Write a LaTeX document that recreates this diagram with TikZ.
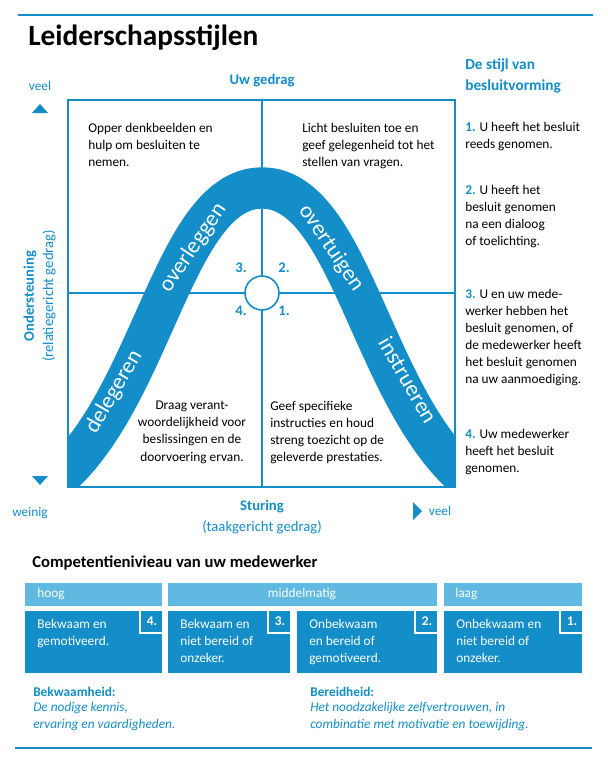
\documentclass[tikz,border=0pt]{standalone}
\usepackage{fontspec}
\setmainfont{Carlito}
\begin{document}
\begin{tikzpicture}[x=0.75pt,y=-0.75pt,
 tx/.style={font=\fontsize{10}{12.8}\selectfont, inner sep=0pt},
 btx/.style={font=\fontsize{11}{13}\selectfont\bfseries, text=cblue, inner sep=0pt},
 curv/.style={font=\fontsize{17}{18}\selectfont, text=white, inner sep=0pt},
 tri/.style={fill=cblue, draw=none},
 hdr/.style={fill=lblue, draw=none},
 bx/.style={fill=cblue, draw=none},
 tag/.style={fill=cblue, draw=white, line width=1.5pt},
 wtx/.style={font=\fontsize{10}{12.8}\selectfont, text=white, inner sep=0pt, align=left, anchor=north west},
]
\definecolor{cblue}{RGB}{20,142,200}
\definecolor{lblue}{RGB}{95,185,225}
\useasboundingbox (0,0) rectangle (607,764);
\fill[white] (0,0) rectangle (607,764);
\coordinate (r1a) at (18,15); \coordinate (r1b) at (593,15);
\draw[cblue, line width=2.2pt] (r1a) -- (r1b);
\node[anchor=west, font=\fontsize{22}{24}\selectfont\bfseries, inner sep=0pt] (title) at (28,38) {Leiderschapsstijlen};
% band
\begin{scope}
\clip (68,100) rectangle (455,487);
\draw[cblue, line width=31pt] (25,500) .. controls (150,440) and (165,188) .. (262,188) .. controls (359,188) and (374,440) .. (499,500);
\end{scope}
% grid
\draw[cblue, line width=1.2pt] (68,100) rectangle (455,487);
\coordinate (vt) at (262,100); \coordinate (vb) at (262,487);
\coordinate (hl) at (68,293); \coordinate (hr) at (455,293);
\draw[cblue, line width=1.2pt] (vt) -- (vb) (hl) -- (hr);
\node[circle, draw=cblue, fill=white, line width=1.2pt, minimum size=34pt*0.75] (c) at (262,293) {};
\node[btx] (n3) at (241,268) {3.};
\node[btx] (n2) at (284,268) {2.};
\node[btx] (n4) at (241,311) {4.};
\node[btx] (n1) at (284,311) {1.};
\node[curv, rotate=60] (del) at (114,392) {delegeren};
\node[curv, rotate=56] (ovl) at (193,248) {overleggen};
\node[curv, rotate=-56] (ovt) at (331,248) {overtuigen};
\node[curv, rotate=-60] (ins) at (408,380) {instrueren};
\node[tx, anchor=north west, align=left] (tl) at (88,123) {Opper denkbeelden en\\hulp om besluiten te\\nemen.};
\node[tx, anchor=north west, align=left] (tr) at (302,123) {Licht besluiten toe en\\geef gelegenheid tot het\\stellen van vragen.};
\node[tx, anchor=north, align=center] (bl) at (192,401) {Draag verant-\\woordelijkheid voor\\beslissingen en de\\doorvoering ervan.};
\node[tx, anchor=north west, align=left] (br) at (270,401) {Geef specifieke\\instructies en houd\\streng toezicht op de\\geleverde prestaties.};
% axes
\node[btx] (uw) at (262,81) {Uw gedrag};
\node[tx, text=cblue] (veel1) at (40,86) {veel};
\fill[tri] (32,113) -- (48,113) -- (40,104) -- cycle;
\fill[tri] (32,476) -- (48,476) -- (40,485) -- cycle;
\node[tx, text=cblue] (wein) at (30,513) {weinig};
\node[btx, rotate=90] (ond) at (30,296) {Ondersteuning};
\node[tx, text=cblue, rotate=90, font=\fontsize{11}{13}\selectfont] (rel) at (49,296) {(relatiegericht gedrag)};
\node[btx] (st) at (262,507) {Sturing};
\node[tx, text=cblue, font=\fontsize{11}{13}\selectfont] (tk) at (262,527) {(taakgericht gedrag)};
\fill[tri] (413,502) -- (413,520) -- (422,511) -- cycle;
\node[tx, text=cblue] (veel2) at (440,511) {veel};
% right column
\node[btx, anchor=north west, align=left, font=\fontsize{11.5}{16}\selectfont\bfseries] (dsv) at (465,58) {De stijl van\\besluitvorming};
\node[tx, anchor=north west, align=left] (s1) at (465,122) {\textcolor{cblue}{\bfseries 1.} U heeft het besluit\\reeds genomen.};
\node[tx, anchor=north west, align=left] (s2) at (465,185) {\textcolor{cblue}{\bfseries 2.} U heeft het\\besluit genomen\\na een dialoog\\of toelichting.};
\node[tx, anchor=north west, align=left] (s3) at (465,289) {\textcolor{cblue}{\bfseries 3.} U en uw mede-\\werker hebben het\\besluit genomen, of\\de medewerker heeft\\het besluit genomen\\na uw aanmoediging.};
\node[tx, anchor=north west, align=left] (s4) at (465,429) {\textcolor{cblue}{\bfseries 4.} Uw medewerker\\heeft het besluit\\genomen.};
% bottom
\node[anchor=west, font=\fontsize{12.5}{14}\selectfont\bfseries, inner sep=0pt] (comp) at (32,563) {Competentienivieau van uw medewerker};
\fill[hdr] (25,583) rectangle (162,606);
\fill[hdr] (168,583) rectangle (437,606);
\fill[hdr] (444,583) rectangle (582,606);
\node[tx, text=white, anchor=west] (h1) at (37,594) {hoog};
\node[tx, text=white] (h2) at (302,594) {middelmatig};
\node[tx, text=white, anchor=west] (h3) at (455,594) {laag};
\fill[bx] (25,611) rectangle (162,673);
\fill[bx] (168,611) rectangle (290,673);
\fill[bx] (297,611) rectangle (437,673);
\fill[bx] (444,611) rectangle (582,673);
\node[wtx] (b1) at (37,619) {Bekwaam en\\gemotiveerd.};
\node[wtx] (b2) at (180,619) {Bekwaam en\\niet bereid of\\onzeker.};
\node[wtx] (b3) at (309,619) {Onbekwaam\\en bereid of\\gemotiveerd.};
\node[wtx] (b4) at (456,619) {Onbekwaam en\\niet bereid of\\onzeker.};
\foreach \xx/\nn in {162/4.,290/3.,437/2.,582/1.}{
 \draw[tag] (\xx-22,610) -- (\xx-22,633) -- (\xx+1,633);
 \node[tx, text=white, font=\fontsize{10}{12}\selectfont\bfseries] at (\xx-10,621) {\nn};
}
\node[btx, anchor=west, font=\fontsize{10}{12}\selectfont\bfseries] (bk) at (33,692) {Bekwaamheid:};
\node[tx, text=cblue, anchor=north west, align=left, font=\fontsize{10}{12.8}\selectfont\itshape] (bkt) at (33,702) {De nodige kennis,\\ervaring en vaardigheden.};
\node[btx, anchor=west, font=\fontsize{10}{12}\selectfont\bfseries] (br2) at (310,692) {Bereidheid:};
\node[tx, text=cblue, anchor=north west, align=left, font=\fontsize{10}{12.8}\selectfont\itshape] (brt) at (310,702) {Het noodzakelijke zelfvertrouwen, in\\combinatie met motivatie en toewijding.};
\coordinate (r2a) at (15,748); \coordinate (r2b) at (592,748);
\draw[cblue, line width=2.2pt] (r2a) -- (r2b);
\end{tikzpicture}
\end{document}
